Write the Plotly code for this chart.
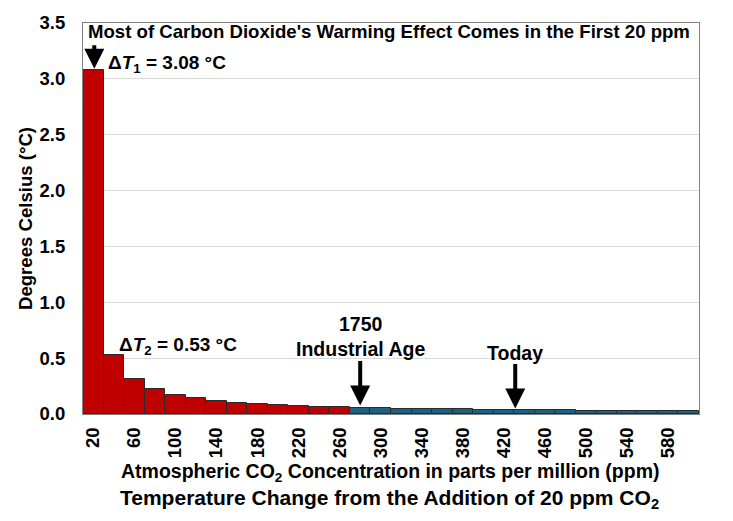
import plotly.graph_objects as go

ppm = list(range(20, 601, 20))
delta_t = [3.08, 0.53, 0.31, 0.22, 0.17, 0.14, 0.12, 0.10, 0.09, 0.08,
           0.07, 0.065, 0.06, 0.057, 0.053, 0.049, 0.046, 0.044, 0.041, 0.039,
           0.037, 0.036, 0.034, 0.033, 0.031, 0.030, 0.029, 0.028, 0.027, 0.026]
red_limit = 260
tick_vals = list(range(20, 581, 40))
y_ticks = [0, 0.5, 1.0, 1.5, 2.0, 2.5, 3.0, 3.5]

colors = ["#C00000" if p <= red_limit else "#1F5F7F" for p in ppm]

FONT = "Arial, Liberation Sans, sans-serif"

fig = go.Figure(go.Bar(
    x=ppm, y=delta_t, width=20,
    marker=dict(color=colors, line=dict(color="#2a2a2a", width=1)),
))

anns = [
    dict(x=0.497, xref="paper", y=3.425, yref="y",
         text="<b>Most of Carbon Dioxide's Warming Effect Comes in the First 20 ppm</b>",
         showarrow=False, font=dict(size=18.6)),
    dict(x=32, y=3.135, text="<b>Δ<i>T</i><sub>1</sub> = 3.08 °C</b>",
         showarrow=False, xanchor="left", font=dict(size=19)),
    dict(x=43, y=0.61, text="<b>Δ<i>T</i><sub>2</sub> = 0.53 °C</b>",
         showarrow=False, xanchor="left", font=dict(size=19)),
    dict(x=280, y=0.69, text="<b>1750<br>Industrial Age</b>",
         showarrow=False, font=dict(size=19.5)),
    dict(x=431, y=0.55, text="<b>Today</b>", showarrow=False, font=dict(size=19.5)),
    # arrows
    dict(x=21, y=3.09, ax=0, ay=-25, showarrow=True, arrowhead=2, arrowsize=1,
         arrowwidth=4, arrowcolor="black", text=""),
    dict(x=280, y=0.075, ax=0, ay=-46, showarrow=True, arrowhead=2, arrowsize=1,
         arrowwidth=4, arrowcolor="black", text=""),
    dict(x=431, y=0.05, ax=0, ay=-46, showarrow=True, arrowhead=2, arrowsize=1,
         arrowwidth=4, arrowcolor="black", text=""),
    # axis titles
    dict(x=0.498, xref="paper", y=-0.149, yref="paper", yanchor="middle",
         text="<b>Atmospheric CO<sub>2</sub> Concentration in parts per million (ppm)</b>",
         showarrow=False, font=dict(size=19.5)),
    dict(x=0.498, xref="paper", y=-0.217, yref="paper", yanchor="middle",
         text="<b>Temperature Change from the Addition of 20 ppm CO<sub>2</sub></b>",
         showarrow=False, font=dict(size=21)),
]

fig.update_layout(
    width=733, height=521,
    margin=dict(l=83, r=34, t=17, b=107),
    paper_bgcolor="white", plot_bgcolor="white",
    font=dict(family=FONT, color="black", size=18),
    showlegend=False,
    annotations=anns,
    bargap=0,
)
fig.update_xaxes(
    range=[10, 610], tickvals=tick_vals, ticktext=[f"<b>{v}</b>" for v in tick_vals],
    tickangle=-90, showgrid=False, showline=True, linecolor="#808080", mirror=True,
    ticks="", tickfont=dict(size=18.5), ticklabelstandoff=5,
)
fig.update_yaxes(
    range=[0, 3.5], tickvals=y_ticks, ticktext=[f"<b>{v:.1f}</b>" for v in y_ticks],
    showgrid=True, gridcolor="#D9D9D9", gridwidth=1,
    showline=True, linecolor="#808080", mirror=True, ticks="",
    title=dict(text="<b>Degrees Celsius (°C)</b>", font=dict(size=18.6), standoff=2),
    tickfont=dict(size=18.5), zeroline=False, ticklabelstandoff=13,
)

fig.write_html("out.html")
